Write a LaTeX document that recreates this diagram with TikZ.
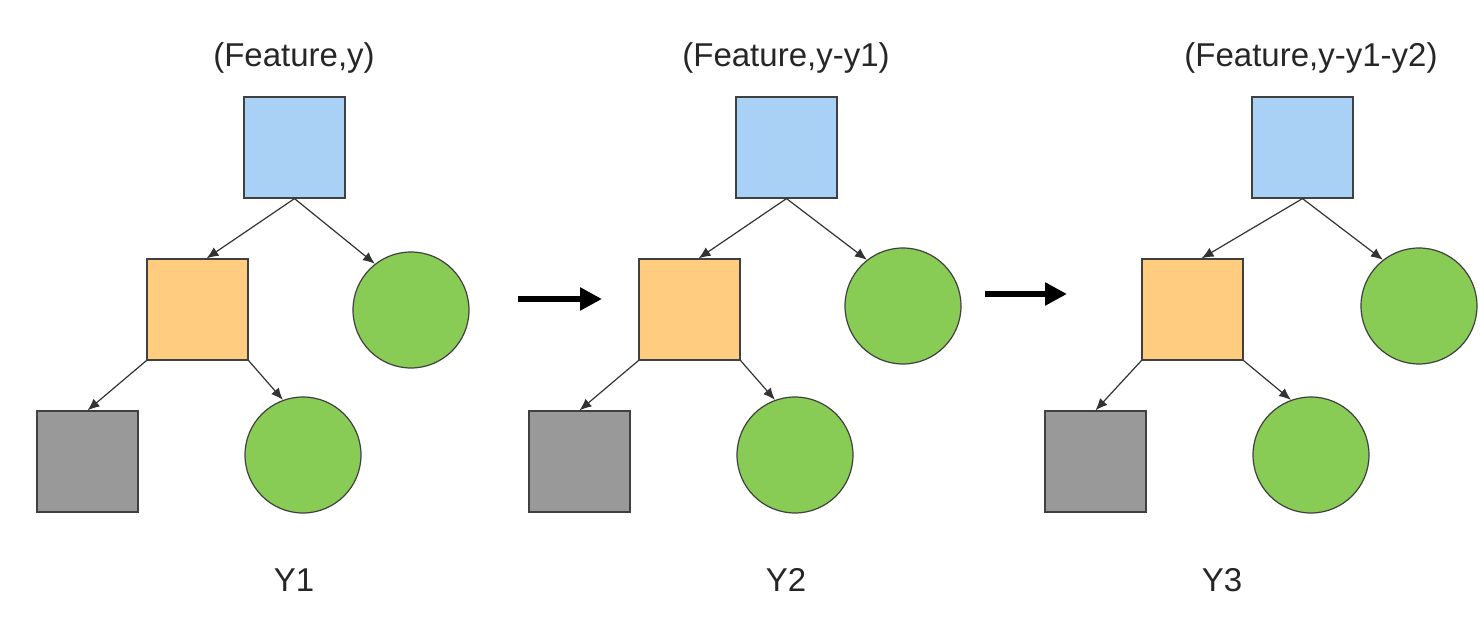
\documentclass[tikz,border=0pt]{standalone}
\usepackage{fontspec}
\setmainfont{Liberation Sans}
\usetikzlibrary{arrows.meta}
\definecolor{rootblue}{HTML}{A9D0F5}
\definecolor{splitorange}{HTML}{FFCC80}
\definecolor{leafgreen}{HTML}{88CC55}
\definecolor{leafgray}{HTML}{999999}
\begin{document}
\begin{tikzpicture}[x=0.5pt,y=-0.5pt]
						\tikzstyle{box}=[rectangle,draw=black!75,line width=0.6pt,minimum size=50.5pt,inner sep=0pt]
						\tikzstyle{leaf}=[circle,draw=black!75,line width=0.6pt,fill=leafgreen,minimum size=58pt,inner sep=0pt]
						\tikzstyle{treetext}=[font=\fontsize{16.5}{20}\selectfont,text=black!85]
						\tikzstyle{branch}=[-{Latex[length=6pt,width=5pt]},line width=0.6pt,black!80]
						\tikzstyle{step arrow}=[-{Triangle[length=11pt,width=11pt]},line width=3pt]
						\useasboundingbox (0,0) rectangle (1480,640);
						% tree 1
						\node[treetext](t1) at (294,58) {(Feature,y)};
						\node[box,fill=rootblue](b1) at (294.5,147.5) {};
						\node[box,fill=splitorange](o1) at (197.5,309.5) {};
						\node[leaf](r1) at (411,310) {};
						\node[box,fill=leafgray](g1) at (87.5,461.5) {};
						\node[leaf](l1) at (303,455) {};
						\node[treetext](y1) at (294,580) {Y1};
						% tree 2
						\node[treetext](t2) at (786,58) {(Feature,y-y1)};
						\node[box,fill=rootblue](b2) at (786.5,147.5) {};
						\node[box,fill=splitorange](o2) at (689.5,309.5) {};
						\node[leaf](r2) at (903,306) {};
						\node[box,fill=leafgray](g2) at (579.5,461.5) {};
						\node[leaf](l2) at (795,455) {};
						\node[treetext](y2) at (786,580) {Y2};
						% tree 3
						\node[treetext](t3) at (1311,58) {(Feature,y-y1-y2)};
						\node[box,fill=rootblue](b3) at (1302.5,147.5) {};
						\node[box,fill=splitorange](o3) at (1192.5,309.5) {};
						\node[leaf](r3) at (1419,306) {};
						\node[box,fill=leafgray](g3) at (1095.5,461.5) {};
						\node[leaf](l3) at (1311,455) {};
						\node[treetext](y3) at (1222,580) {Y3};
						\path[branch]
							(b1.south) edge (o1.80)
							(b1.south) edge (r1.128)
							(o1.south west) edge (g1.north)
							(o1.south east) edge (l1.110)
							(b2.south) edge (o2.80)
							(b2.south) edge (r2.128)
							(o2.south west) edge (g2.north)
							(o2.south east) edge (l2.110)
							(b3.south) edge (o3.80)
							(b3.south) edge (r3.128)
							(o3.south west) edge (g3.north)
							(o3.south east) edge (l3.110);
						% steps between the trees
						\coordinate (s1) at (518,299);
						\coordinate (e1) at (602,299);
						\coordinate (s2) at (985,294);
						\coordinate (e2) at (1067,294);
						\draw[step arrow] (s1) -- (e1);
						\draw[step arrow] (s2) -- (e2);
					\end{tikzpicture}
\end{document}
